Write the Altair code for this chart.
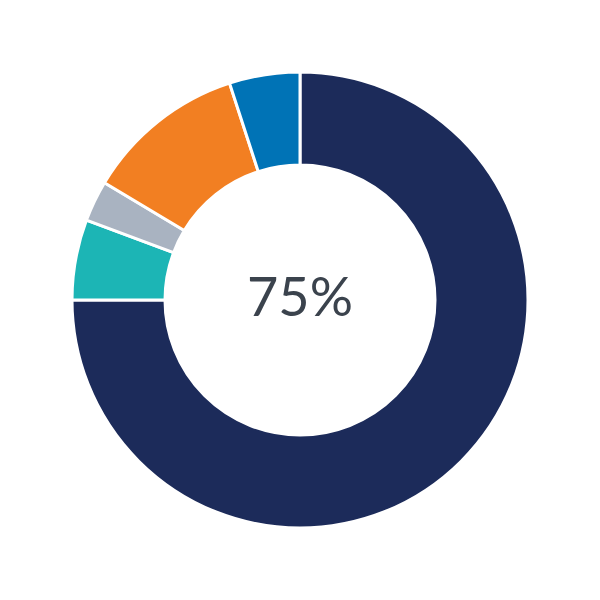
import altair as alt
import pandas as pd

categories = ["A", "B", "C", "D", "E"]
values = [75.0, 5.7, 2.9, 11.4, 5.0]
colors = ["#1c2b5a", "#1cb5b5", "#a9b3c1", "#f27f22", "#0073b6"]
center_label = "75%"

df = pd.DataFrame({"cat": categories, "value": values, "idx": list(range(len(categories)))})

arcs = alt.Chart(df).mark_arc(outerRadius=228, innerRadius=135, stroke="white", strokeWidth=3).encode(
    theta=alt.Theta("value:Q", stack=True),
    color=alt.Color("cat:N", scale=alt.Scale(domain=categories, range=colors), legend=None),
    order=alt.Order("idx:Q"),
)

text = alt.Chart(pd.DataFrame({"t": [center_label]})).mark_text(
    font="Lato", fontSize=54, color="#3b434d", align="center", baseline="middle"
).encode(text="t:N")

chart = alt.layer(arcs, text).properties(
    width=584, height=584, padding=0,
    autosize=alt.AutoSizeParams(type="fit", contains="padding"),
).configure_view(stroke=None)

chart.save("out.html", embed_options={"renderer": "svg", "actions": False})
